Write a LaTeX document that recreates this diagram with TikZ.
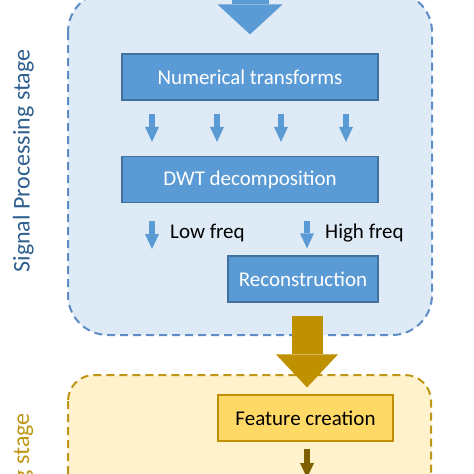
\documentclass[tikz,border=0pt]{standalone}
\usepackage{fontspec}
\setmainfont{Carlito}
\usepackage{tikz}
\usetikzlibrary{arrows.meta}
\usetikzlibrary{positioning}
\definecolor{stageblue}{RGB}{222, 235, 247}
\definecolor{dashblue}{RGB}{93, 141, 196}
\definecolor{boxblue}{RGB}{91, 155, 213}
\definecolor{edgeblue}{RGB}{65, 113, 156}
\definecolor{labelblue}{RGB}{47, 95, 143}
\definecolor{stagegold}{RGB}{255, 242, 204}
\definecolor{dashgold}{RGB}{191, 150, 20}
\definecolor{boxgold}{RGB}{255, 217, 102}
\definecolor{edgegold}{RGB}{191, 144, 0}
\definecolor{darkgold}{RGB}{127, 96, 0}

\tikzset{
    stagebox/.style={line width=2pt, dash pattern=on 8pt off 5pt},
    procbox/.style={draw=edgeblue, fill=boxblue, line width=1.2pt, text=white,
                    minimum height=46pt, inner sep=0pt, font=\fontsize{21}{25}\selectfont},
    featbox/.style={procbox, draw=edgegold, fill=boxgold, text=black},
    freqlabel/.style={anchor=base west, inner sep=0pt, font=\fontsize{21}{25}\selectfont},
    stagelabel/.style={rotate=90, anchor=base, inner sep=0pt, font=\fontsize{24}{28}\selectfont},
    thinarrow/.style={line width=6pt, -{Triangle[width=14pt, length=15pt, line width=0pt]}},
    bluearrow/.style={boxblue, line width=37pt, -{Triangle[width=65pt, length=30pt, line width=0pt]}},
    goldarrow/.style={edgegold, line width=31pt, -{Triangle[width=62pt, length=33pt, line width=0pt]}}
}

\begin{document}
\begin{tikzpicture}[x=1pt, y=-1pt]
            \useasboundingbox (0, 0) rectangle (474, 474);
            \clip             (0, 0) rectangle (474, 474);
            % Stage frames
            \draw[stagebox, draw=dashblue, fill=stageblue, rounded corners=40pt] ( 68, -8) rectangle (432, 335);
            \draw[stagebox, draw=dashgold, fill=stagegold, rounded corners=26pt] ( 68, 375) rectangle (431, 520);
            % Stage labels
            \node[stagelabel, text=labelblue]                   (spstage) at (29.5, 161) {Signal Processing stage};
            \node[stagelabel, anchor=base east, text=dashgold]  (mlstage) at (29.0, 413) {Machine Learning stage};
            % Blocks
            \node[procbox, minimum width=256pt] (num)  at (250.0,  77.0) {Numerical transforms};
            \node[procbox, minimum width=256pt] (dwt)  at (250.0, 179.5) {DWT decomposition};
            \node[procbox, minimum width=150pt] (rec)  at (303.0, 279.0) {Reconstruction};
            \node[featbox, minimum width=175pt] (feat) at (305.5, 418.0) {Feature creation};
            % Input arrow
            \coordinate (prev) at (250, -40);
            \draw[bluearrow, shorten >=19pt] (prev) -- (num.north);
            % Transforms to DWT
            \foreach \dx in {-98, -33, 31, 96}
                \draw[thinarrow, boxblue, shorten <=13pt, shorten >=14pt]
                    ([xshift=\dx pt]num.south) -- ([xshift=\dx pt]dwt.north);
            % Frequency bands
            \coordinate (lowend) at (152, 249);
            \draw[thinarrow, boxblue, shorten <=18pt] ([xshift=-98pt]dwt.south) -- (lowend);
            \draw[thinarrow, boxblue, shorten <=18pt, shorten >=7pt]
                ([xshift=57pt]dwt.south) -- ([xshift=57pt]dwt.south |- rec.north);
            \node[freqlabel] (low)  at (170, 238.5) {Low freq};
            \node[freqlabel] (high) at (325, 238.5) {High freq};
            % Stage to stage
            \draw[goldarrow, shorten <=13pt, shorten >=7pt] ([xshift=4pt]rec.south) -- ([xshift=1.5pt]feat.north);
            % Feature output
            \coordinate (next) at (307, 478);
            \draw[thinarrow, darkgold, shorten <=7pt] ([xshift=1.5pt]feat.south) -- (next);
\end{tikzpicture}
\end{document}
